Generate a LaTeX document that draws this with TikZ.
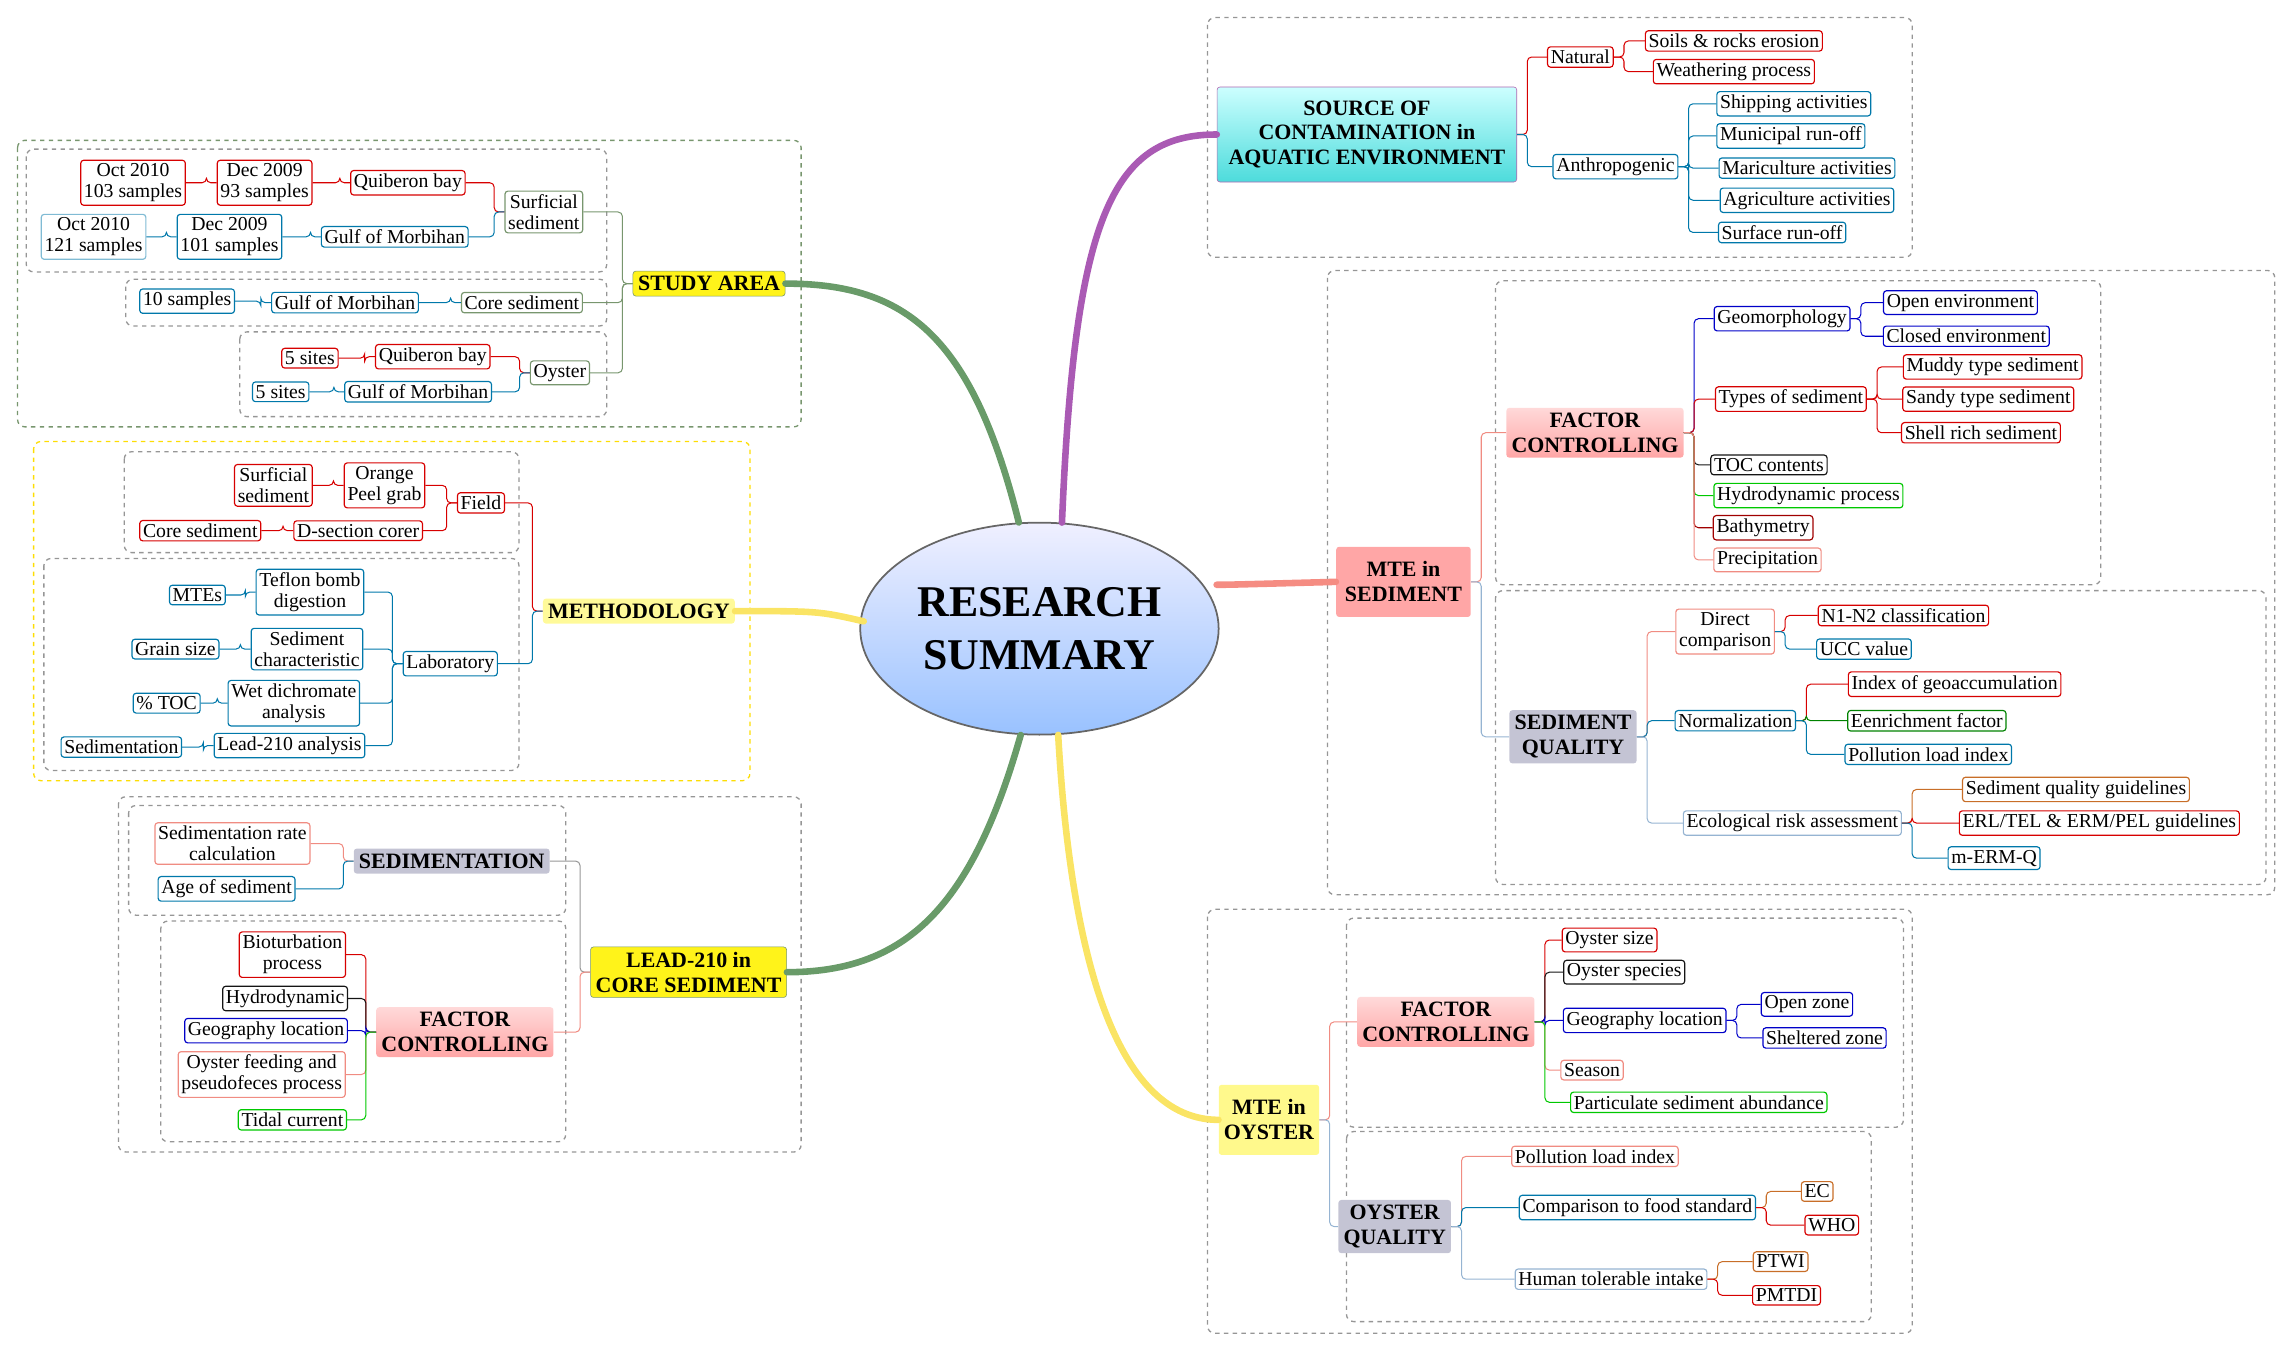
\documentclass[tikz,border=0pt]{standalone}
\usepackage{fontspec}
\setmainfont{Liberation Serif}
\usetikzlibrary{shapes.geometric}
\definecolor{cR}{RGB}{215,0,0}
\definecolor{cC}{RGB}{0,120,170}
\definecolor{cB}{RGB}{0,0,200}
\definecolor{cG}{RGB}{0,200,0}
\definecolor{cDG}{RGB}{0,130,0}
\definecolor{cK}{RGB}{20,20,20}
\definecolor{cP}{RGB}{240,140,130}
\definecolor{cO}{RGB}{200,110,40}
\definecolor{cDR}{RGB}{160,0,0}
\definecolor{cLB}{RGB}{150,180,210}
\definecolor{cSG}{RGB}{120,150,110}
\definecolor{cGr}{RGB}{150,150,150}
\definecolor{brG}{RGB}{105,155,105}
\definecolor{brY}{RGB}{250,228,100}
\definecolor{brP}{RGB}{170,90,180}
\definecolor{brR}{RGB}{245,140,130}
\newcommand\conR[3]{\draw[#3,line width=0.7pt,rounded corners=3pt] (#1.east) -- ++(7,0) |- (#2.west);}
\newcommand\conL[3]{\draw[#3,line width=0.7pt,rounded corners=3pt] (#1.west) -- ++(-7,0) |- (#2.east);}
\tikzset{
 lf/.style={draw, rounded corners=2pt, fill=white, inner sep=2.2pt, font=\fontsize{13.5}{14.5}\selectfont, line width=0.8pt, align=center},
 hd/.style={rounded corners=2pt, font=\bfseries\fontsize{15}{17}\selectfont, align=center, inner sep=3.5pt},
 grp/.style={draw=cGr, dashed, rounded corners=5pt, line width=0.9pt},
 br/.style={line width=4.5pt, line cap=round}
}
\begin{document}
\begin{tikzpicture}[x=1pt,y=-1pt]
\useasboundingbox (0,0) rectangle (1563,920);
% groups
\draw[grp] (826,12) rectangle (1308,176);
\draw[grp] (908,185) rectangle (1556,612);
\draw[grp] (1023,192) rectangle (1437,400);
\draw[grp] (1023,404) rectangle (1550,605);
\draw[grp] (826,622) rectangle (1308,912);
\draw[grp] (921,628) rectangle (1302,771);
\draw[grp] (921,774) rectangle (1280,904);
\draw[grp,draw=cSG] (12,96) rectangle (548,292);
\draw[grp] (18,102) rectangle (415,186);
\draw[grp] (86,191) rectangle (415,223);
\draw[grp] (164,227) rectangle (415,285);
\draw[grp,draw=yellow!80!orange] (23,302) rectangle (513,534);
\draw[grp] (85,309) rectangle (355,378);
\draw[grp] (30,382) rectangle (355,527);
\draw[grp] (81,545) rectangle (548,788);
\draw[grp] (88,551) rectangle (387,626);
\draw[grp] (110,630) rectangle (387,781);

% center
\node[ellipse, draw=gray!80!black, line width=1.2pt, top color=blue!6, bottom color=cyan!40!blue!40, minimum width=240, minimum height=145, align=center, font=\bfseries\fontsize{30}{36}\selectfont] (rs) at (711,430) {RESEARCH\\SUMMARY};

% heads
\node[hd, draw=violet!60, top color=cyan!20, bottom color=cyan!60!teal!70, minimum width=205, minimum height=65] (src) at (935,92) {SOURCE OF\\CONTAMINATION in\\AQUATIC ENVIRONMENT};
\node[hd, fill=red!35, minimum width=92, minimum height=48] (mtes) at (960,398) {MTE in\\SEDIMENT};
\node[hd, fill=yellow!45, minimum height=48] (mteo) at (868,766) {MTE in\\OYSTER};
\node[hd, draw=cSG, fill=yellow!90!white] (sa) at (485,194) {STUDY AREA};
\node[hd, fill=yellow!40] (meth) at (437,418) {METHODOLOGY};
\node[hd, draw=cSG, fill=yellow!90!white] (lead) at (471,665) {LEAD-210 in\\CORE SEDIMENT};
\node[hd, top color=red!15, bottom color=red!35] (fcs) at (1091,296) {FACTOR\\CONTROLLING};
\node[hd, fill=blue!15!gray!40] (sq) at (1076,504) {SEDIMENT\\QUALITY};
\node[hd, top color=red!15, bottom color=red!35] (fco) at (989,699) {FACTOR\\CONTROLLING};
\node[hd, fill=blue!15!gray!40] (oq) at (954,839) {OYSTER\\QUALITY};
\node[hd, fill=blue!15!gray!40] (sedm) at (309,589) {SEDIMENTATION};
\node[hd, top color=red!15, bottom color=red!35] (fcl) at (318,706) {FACTOR\\CONTROLLING};

% main branches
\draw[br, brP] (rs.78) .. controls (735,150) and (760,92) .. (src.west);
\draw[br, brR] (rs.east) ++(-2,-30) .. controls (840,400) .. (mtes.west);
\draw[br, brY] (rs.-80) .. controls (735,700) and (780,766) .. (mteo.west);
\draw[br, brG] (rs.101) .. controls (665,230) and (620,194) .. (sa.east);
\draw[br, brY] (rs.west) ++(3,-5) .. controls (560,418) .. (meth.east);
\draw[br, brG] (rs.-100) .. controls (665,620) and (620,665) .. (lead.east);

% SOURCE
\node[lf,draw=cR] (nat) at (1081,39) {Natural};
\node[lf,draw=cR] (soil) at (1186,28) {Soils \& rocks erosion};
\node[lf,draw=cR] (wea) at (1186,49) {Weathering process};
\node[lf,draw=cC] (ant) at (1105,114) {Anthropogenic};
\node[lf,draw=cC] (ship) at (1227,71) {Shipping activities};
\node[lf,draw=cC] (mun) at (1225,93) {Municipal run-off};
\node[lf,draw=cC] (mar) at (1236,115) {Mariculture activities};
\node[lf,draw=cC] (agr) at (1236,137) {Agriculture activities};
\node[lf,draw=cC] (sur) at (1219,159) {Surface run-off};
\conR{src}{nat}{cR}\conR{src}{ant}{cC}
\conR{nat}{soil}{cR}\conR{nat}{wea}{cR}
\foreach \n in {ship,mun,mar,agr,sur}{\conR{ant}{\n}{cC}}

% SEDIMENT factor
\node[lf,draw=cB] (geo) at (1219,218) {Geomorphology};
\node[lf,draw=cB] (open) at (1341,207) {Open environment};
\node[lf,draw=cB] (clos) at (1345,230) {Closed environment};
\node[lf,draw=cR] (typ) at (1225,273) {Types of sediment};
\node[lf,draw=cR] (mud) at (1363,251) {Muddy type sediment};
\node[lf,draw=cR] (sand) at (1360,273) {Sandy type sediment};
\node[lf,draw=cR] (shell) at (1355,296) {Shell rich sediment};
\node[lf,draw=cK] (toc) at (1210,318) {TOC contents};
\node[lf,draw=cG] (hyd) at (1237,339) {Hydrodynamic process};
\node[lf,draw=cDR] (bat) at (1206,361) {Bathymetry};
\node[lf,draw=cP] (pre) at (1209,383) {Precipitation};
\conR{mtes}{fcs}{cP}\conR{mtes}{sq}{cLB}
\conR{fcs}{geo}{cB}\conR{fcs}{typ}{cR}\conR{fcs}{toc}{cK}\conR{fcs}{hyd}{cG}\conR{fcs}{bat}{cDR}\conR{fcs}{pre}{cP}
\conR{geo}{open}{cB}\conR{geo}{clos}{cB}
\conR{typ}{mud}{cR}\conR{typ}{sand}{cR}\conR{typ}{shell}{cR}

% SEDIMENT quality
\node[lf,draw=cP] (dir) at (1180,432) {Direct\\comparison};
\node[lf,draw=cR] (n1) at (1302,421) {N1-N2 classification};
\node[lf,draw=cC] (ucc) at (1275,444) {UCC value};
\node[lf,draw=cC] (norm) at (1187,493) {Normalization};
\node[lf,draw=cR] (igeo) at (1337,468) {Index of geoaccumulation};
\node[lf,draw=cDG] (ef) at (1318,493) {Eenrichment factor};
\node[lf,draw=cC] (pli) at (1319,516) {Pollution load index};
\node[lf,draw=cLB] (era) at (1226,563) {Ecological risk assessment};
\node[lf,draw=cO] (sqg) at (1420,540) {Sediment quality guidelines};
\node[lf,draw=cR] (erl) at (1436,563) {ERL/TEL \& ERM/PEL guidelines};
\node[lf,draw=cC] (merm) at (1364,587) {m-ERM-Q};
\conR{sq}{dir}{cP}\conR{sq}{norm}{cC}\conR{sq}{era}{cLB}
\conR{dir}{n1}{cR}\conR{dir}{ucc}{cC}
\conR{norm}{igeo}{cR}\conR{norm}{ef}{cDG}\conR{norm}{pli}{cC}
\conR{era}{sqg}{cO}\conR{era}{erl}{cR}\conR{era}{merm}{cC}

% OYSTER factor
\node[lf,draw=cR] (osz) at (1101,643) {Oyster size};
\node[lf,draw=cK] (osp) at (1111,665) {Oyster species};
\node[lf,draw=cB] (gl) at (1125,698) {Geography location};
\node[lf,draw=cB] (oz) at (1236,687) {Open zone};
\node[lf,draw=cB] (sz) at (1248,710) {Sheltered zone};
\node[lf,draw=cP] (sea) at (1089,732) {Season};
\node[lf,draw=cG] (psa) at (1162,754) {Particulate sediment abundance};
\conR{mteo}{fco}{cP}\conR{mteo}{oq}{cLB}
\conR{fco}{osz}{cR}\conR{fco}{osp}{cK}\conR{fco}{gl}{cB}\conR{fco}{sea}{cP}\conR{fco}{psa}{cG}
\conR{gl}{oz}{cB}\conR{gl}{sz}{cB}
% OYSTER quality
\node[lf,draw=cP] (opli) at (1091,791) {Pollution load index};
\node[lf,draw=cC] (cfs) at (1120,826) {Comparison to food standard};
\node[lf,draw=cO] (ec) at (1243,815) {EC};
\node[lf,draw=cR] (who) at (1253,838) {WHO};
\node[lf,draw=cLB] (hti) at (1102,875) {Human tolerable intake};
\node[lf,draw=cO] (ptwi) at (1218,863) {PTWI};
\node[lf,draw=cR] (pmt) at (1222,886) {PMTDI};
\conR{oq}{opli}{cP}\conR{oq}{cfs}{cC}\conR{oq}{hti}{cLB}
\conR{cfs}{ec}{cO}\conR{cfs}{who}{cR}
\conR{hti}{ptwi}{cO}\conR{hti}{pmt}{cR}

% STUDY AREA
\node[lf,draw=cSG] (ss) at (372,145) {Surficial\\sediment};
\node[lf,draw=cR] (qb1) at (279,125) {Quiberon bay};
\node[lf,draw=cR] (d93) at (181,125) {Dec 2009\\93 samples};
\node[lf,draw=cR] (o103) at (91,125) {Oct 2010\\103 samples};
\node[lf,draw=cC] (gm1) at (270,162) {Gulf of Morbihan};
\node[lf,draw=cC] (d101) at (157,162) {Dec 2009\\101 samples};
\node[lf,draw=cC!50] (o121) at (64,162) {Oct 2010\\121 samples};
\node[lf,draw=cSG] (cs) at (357,207) {Core sediment};
\node[lf,draw=cC] (gm2) at (236,207) {Gulf of Morbihan};
\node[lf,draw=cC] (ten) at (128,206) {10 samples};
\node[lf,draw=cSG] (oys) at (383,255) {Oyster};
\node[lf,draw=cR] (qb2) at (296,244) {Quiberon bay};
\node[lf,draw=cR] (fs1) at (212,245) {5 sites};
\node[lf,draw=cC] (gm3) at (286,268) {Gulf of Morbihan};
\node[lf,draw=cC] (fs2) at (192,268) {5 sites};
\conL{sa}{ss}{cSG}\conL{sa}{cs}{cSG}\conL{sa}{oys}{cSG}
\conL{ss}{qb1}{cR}\conL{qb1}{d93}{cR}\conL{d93}{o103}{cR}
\conL{ss}{gm1}{cC}\conL{gm1}{d101}{cC}\conL{d101}{o121}{cC}
\conL{cs}{gm2}{cC}\conL{gm2}{ten}{cC}
\conL{oys}{qb2}{cR}\conL{qb2}{fs1}{cR}
\conL{oys}{gm3}{cC}\conL{gm3}{fs2}{cC}

% METHODOLOGY
\node[lf,draw=cR] (fld) at (329,344) {Field};
\node[lf,draw=cR] (opg) at (263,332) {Orange\\Peel grab};
\node[lf,draw=cR] (sfs) at (187,332) {Surficial\\sediment};
\node[lf,draw=cR] (dsc) at (245,363) {D-section corer};
\node[lf,draw=cR] (cse) at (137,363) {Core sediment};
\node[lf,draw=cC] (lab) at (308,454) {Laboratory};
\node[lf,draw=cC] (tef) at (212,405) {Teflon bomb\\digestion};
\node[lf,draw=cC] (mtes2) at (135,407) {MTEs};
\node[lf,draw=cC] (sch) at (210,444) {Sediment\\characteristic};
\node[lf,draw=cC] (gs) at (120,444) {Grain size};
\node[lf,draw=cC] (wda) at (201,481) {Wet dichromate\\analysis};
\node[lf,draw=cC] (ptoc) at (114,481) {\% TOC};
\node[lf,draw=cC] (l210) at (198,510) {Lead-210 analysis};
\node[lf,draw=cC] (sedi) at (83,511) {Sedimentation};
\conL{meth}{fld}{cR}\conL{meth}{lab}{cC}
\conL{fld}{opg}{cR}\conL{opg}{sfs}{cR}\conL{fld}{dsc}{cR}\conL{dsc}{cse}{cR}
\conL{lab}{tef}{cC}\conL{tef}{mtes2}{cC}\conL{lab}{sch}{cC}\conL{sch}{gs}{cC}
\conL{lab}{wda}{cC}\conL{wda}{ptoc}{cC}\conL{lab}{l210}{cC}\conL{l210}{sedi}{cC}

% LEAD-210
\node[lf,draw=cP] (src2) at (159,577) {Sedimentation rate\\calculation};
\node[lf,draw=cC] (age) at (155,608) {Age of sediment};
\node[lf,draw=cR] (bio) at (200,653) {Bioturbation\\process};
\node[lf,draw=cK] (hy2) at (195,683) {Hydrodynamic};
\node[lf,draw=cB] (gl2) at (182,705) {Geography location};
\node[lf,draw=cP] (ofp) at (179,735) {Oyster feeding and\\pseudofeces process};
\node[lf,draw=cG] (tid) at (200,766) {Tidal current};
\conL{lead}{sedm}{cGr}\conL{lead}{fcl}{cP}
\conL{sedm}{src2}{cP}\conL{sedm}{age}{cC}
\conL{fcl}{bio}{cR}\conL{fcl}{hy2}{cK}\conL{fcl}{gl2}{cB}\conL{fcl}{ofp}{cP}\conL{fcl}{tid}{cG}
\end{tikzpicture}
\end{document}
